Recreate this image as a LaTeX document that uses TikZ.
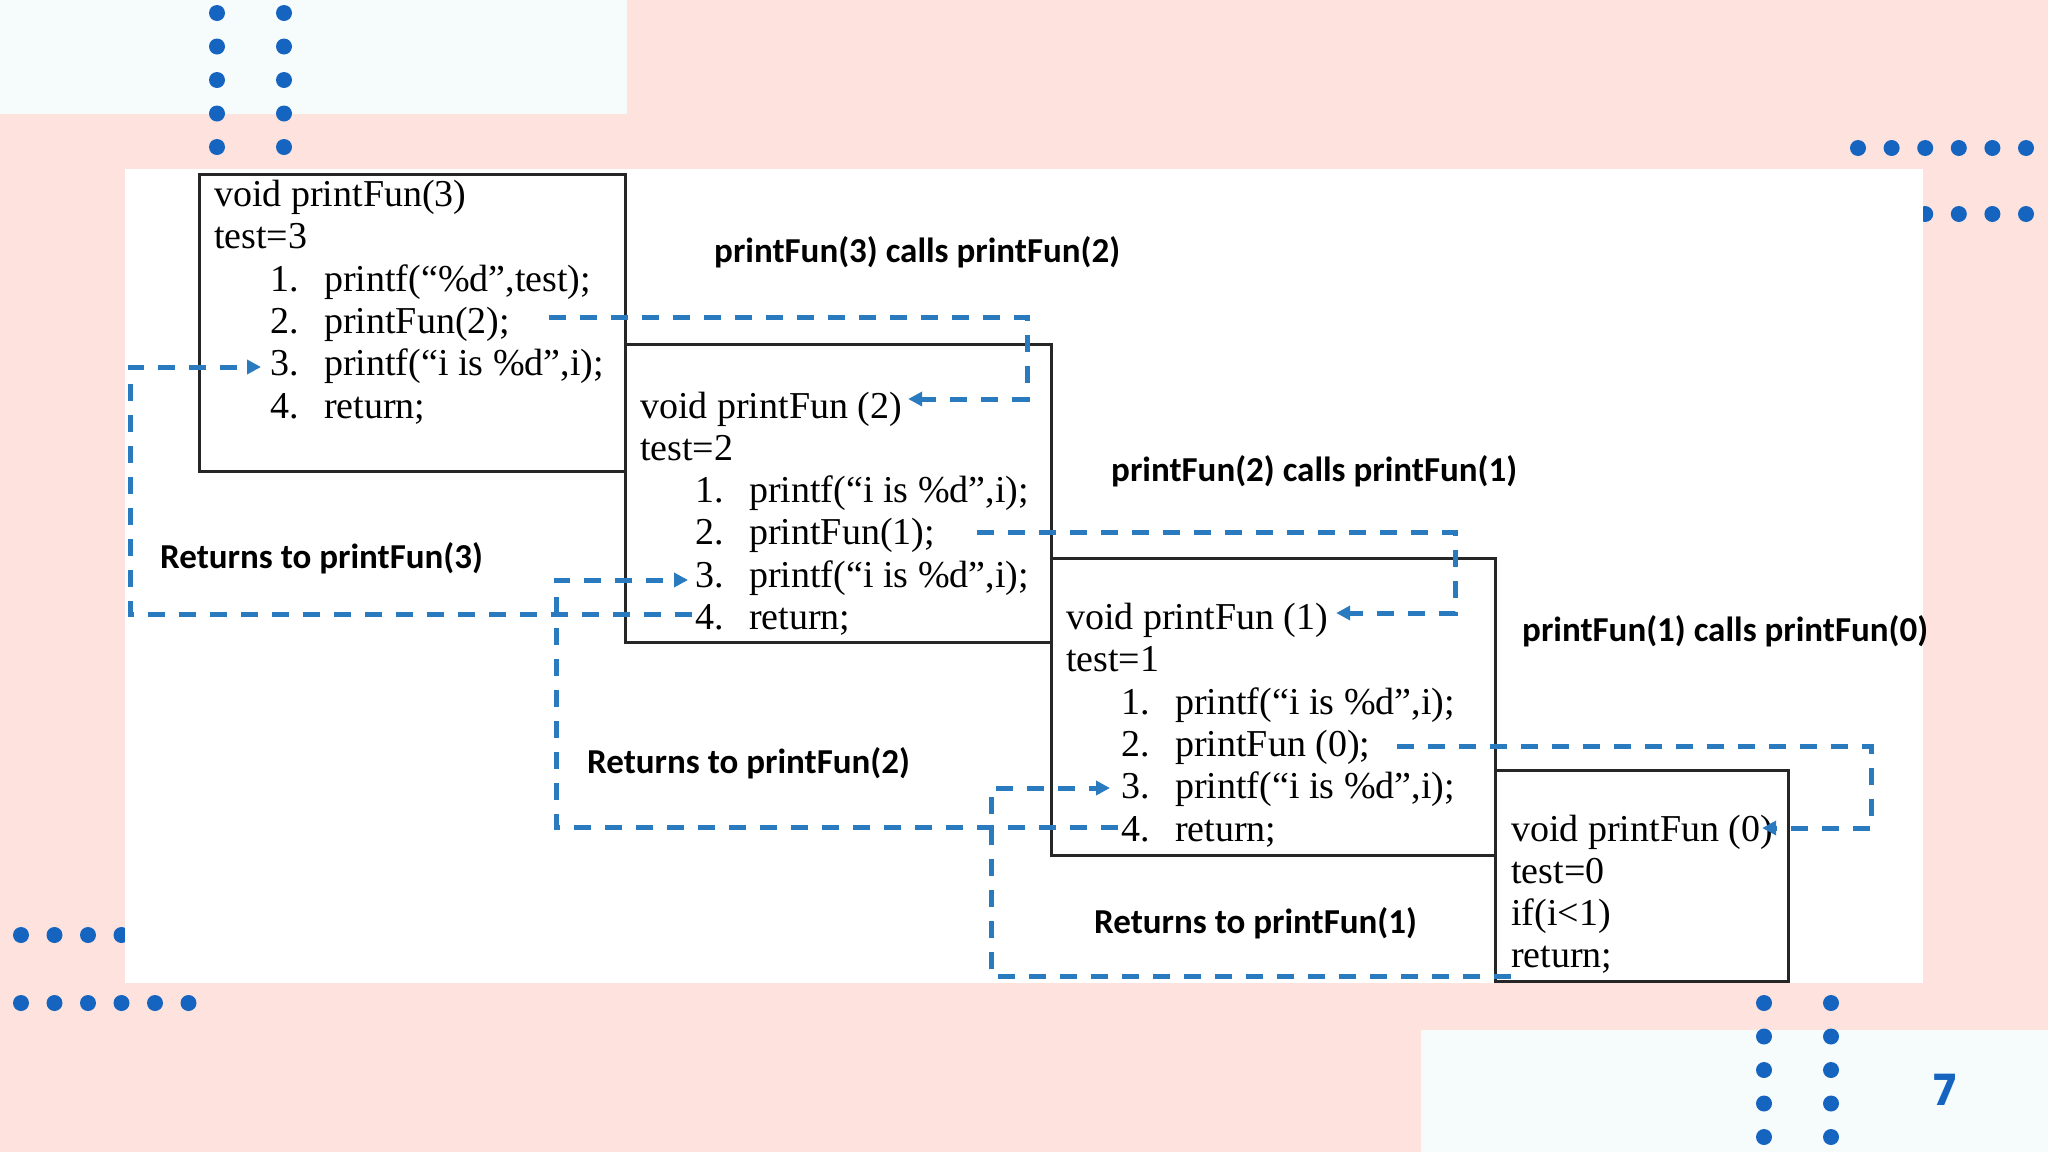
\documentclass[tikz,border=0pt]{standalone}
\usepackage{fontspec}
\setmainfont{Liberation Serif}
\newfontfamily\notefamily{Carlito}
\newfontfamily\pagefamily{Poppins}
\usetikzlibrary{arrows.meta}

\definecolor{bgpink}{RGB}{253,226,222}
\definecolor{palecyan}{RGB}{246,251,252}
\definecolor{dotblue}{RGB}{21,101,192}
\definecolor{flowblue}{RGB}{42,122,192}

\newcommand{\itm}[1]{\makebox[54pt][l]{#1.}}

\tikzset{
  code/.style={anchor=base west, inner sep=0pt, font=\fontsize{38}{42}\selectfont},
  note/.style={anchor=west, inner sep=0pt, font=\notefamily\bfseries\fontsize{35}{40}\selectfont},
  frame/.style={draw=black!85, line width=2.5pt, anchor=north west, inner sep=0pt},
  flow/.style={draw=flowblue, line width=5pt, dash pattern=on 17pt off 14pt,
    -{Triangle[length=14pt,width=14pt]}},
  dot/.style={fill=dotblue, draw=none},
}

\begin{document}
\begin{tikzpicture}[x=1pt,y=-1pt]
    \useasboundingbox (0,0) rectangle (2048,1152);
    %background
    \fill[bgpink] (0,0) rectangle (2048,1152);
    \fill[palecyan] (0,0) rectangle (627,114);
    \fill[palecyan] (1421,1030) rectangle (2048,1152);
    %dots
    \foreach \k in {0,...,4} {
        \pgfmathsetmacro{\dy}{13+33.5*\k}
        \fill[dot] (217,\dy) circle[radius=8pt];
        \fill[dot] (284,\dy) circle[radius=8pt];
        \pgfmathsetmacro{\dy}{1003+33.5*\k}
        \fill[dot] (1764,\dy) circle[radius=8pt];
        \fill[dot] (1831,\dy) circle[radius=8pt];
    }
    \foreach \k in {0,...,5} {
        \pgfmathsetmacro{\dx}{1858+33.6*\k}
        \fill[dot] (\dx,148) circle[radius=8pt];
        \fill[dot] (\dx,214) circle[radius=8pt];
        \pgfmathsetmacro{\dx}{21+33.5*\k}
        \fill[dot] (\dx,935) circle[radius=8pt];
        \fill[dot] (\dx,1003) circle[radius=8pt];
    }
    %panel
    \fill[white] (125,169) rectangle (1923,983);

    %frames
    \node[frame, minimum width=426pt, minimum height=297pt] (b3) at (198,173) {};
    \node[frame, minimum width=426pt, minimum height=298pt] (b2) at (624,343) {};
    \node[frame, minimum width=444pt, minimum height=297pt] (b1) at (1050,557) {};
    \node[frame, minimum width=293pt, minimum height=211pt] (b0) at (1494,769) {};

    %printFun(3)
    \node[code] (f3v) at (214,206) {void printFun(3)};
    \node[code] (f3t) at (214,248) {test=3};
    \node[code] (f3l1) at (270,291) {\itm{1}printf(“\%d”,test);};
    \node[code] (f3l2) at (270,333) {\itm{2}printFun(2);};
    \node[code] (f3l3) at (270,375) {\itm{3}printf(“i is \%d”,i);};
    \node[code] (f3l4) at (270,418) {\itm{4}return;};
    %printFun(2)
    \node[code] (f2v) at (640,418) {void printFun (2)};
    \node[code] (f2t) at (640,460) {test=2};
    \node[code] (f2l1) at (695,502) {\itm{1}printf(“i is \%d”,i);};
    \node[code] (f2l2) at (695,544) {\itm{2}printFun(1);};
    \node[code] (f2l3) at (695,587) {\itm{3}printf(“i is \%d”,i);};
    \node[code] (f2l4) at (695,629) {\itm{4}return;};
    %printFun(1)
    \node[code] (f1v) at (1066,629) {void printFun (1)};
    \node[code] (f1t) at (1066,671) {test=1};
    \node[code] (f1l1) at (1121,714) {\itm{1}printf(“i is \%d”,i);};
    \node[code] (f1l2) at (1121,756) {\itm{2}printFun (0);};
    \node[code] (f1l3) at (1121,798) {\itm{3}printf(“i is \%d”,i);};
    \node[code] (f1l4) at (1121,841) {\itm{4}return;};
    %printFun(0)
    \node[code] (f0v) at (1511,841) {void printFun (0)};
    \node[code] (f0t) at (1511,883) {test=0};
    \node[code] (f0l3) at (1511,925) {if(i<1)};
    \node[code] (f0l4) at (1511,967) {return;};

    %labels
    \node[note] (c32) at (714,252) {printFun(3) calls printFun(2)};
    \node[note] (c21) at (1111,471) {printFun(2) calls printFun(1)};
    \node[note] (c10) at (1522,631) {printFun(1) calls printFun(0)};
    \node[note] (r3) at (160,558) {Returns to printFun(3)};
    \node[note] (r2) at (587,763) {Returns to printFun(2)};
    \node[note] (r1) at (1094,923) {Returns to printFun(1)};

    %calls
    \draw[flow] ([xshift=39pt,yshift=16pt]f3l2.base east) -| ([xshift=125pt,yshift=19pt]f2v.base east) -- ([xshift=6pt,yshift=19pt]f2v.base east);
    \draw[flow] ([xshift=42pt,yshift=12pt]f2l2.base east) -| ([xshift=127pt,yshift=16pt]f1v.base east) -- ([xshift=8pt,yshift=16pt]f1v.base east);
    \draw[flow] ([xshift=26pt,yshift=10pt]f1l2.base east) -| ([xshift=98pt,yshift=13pt]f0v.base east) -- ([xshift=-11pt,yshift=13pt]f0v.base east);
    %returns
    \draw[flow] ([xshift=-3pt,yshift=15pt]f2l4.base west) -| ([xshift=-140pt,yshift=8pt]f3l3.base west) -- ([xshift=-9pt,yshift=8pt]f3l3.base west);
    \draw[flow] ([xshift=-3pt,yshift=14pt]f1l4.base west) -| ([xshift=-139pt,yshift=7pt]f2l3.base west) -- ([xshift=-7pt,yshift=7pt]f2l3.base west);
    \draw[flow] ([yshift=-9pt]f0l4.base west) -| ([xshift=-130pt,yshift=10pt]f1l3.base west) -- ([xshift=-11pt,yshift=10pt]f1l3.base west);

    %page number
    \node[font=\pagefamily\bfseries\fontsize{43}{48}\selectfont, text=dotblue, inner sep=0pt] (pg) at (1945,1090) {7};
\end{tikzpicture}
\end{document}
